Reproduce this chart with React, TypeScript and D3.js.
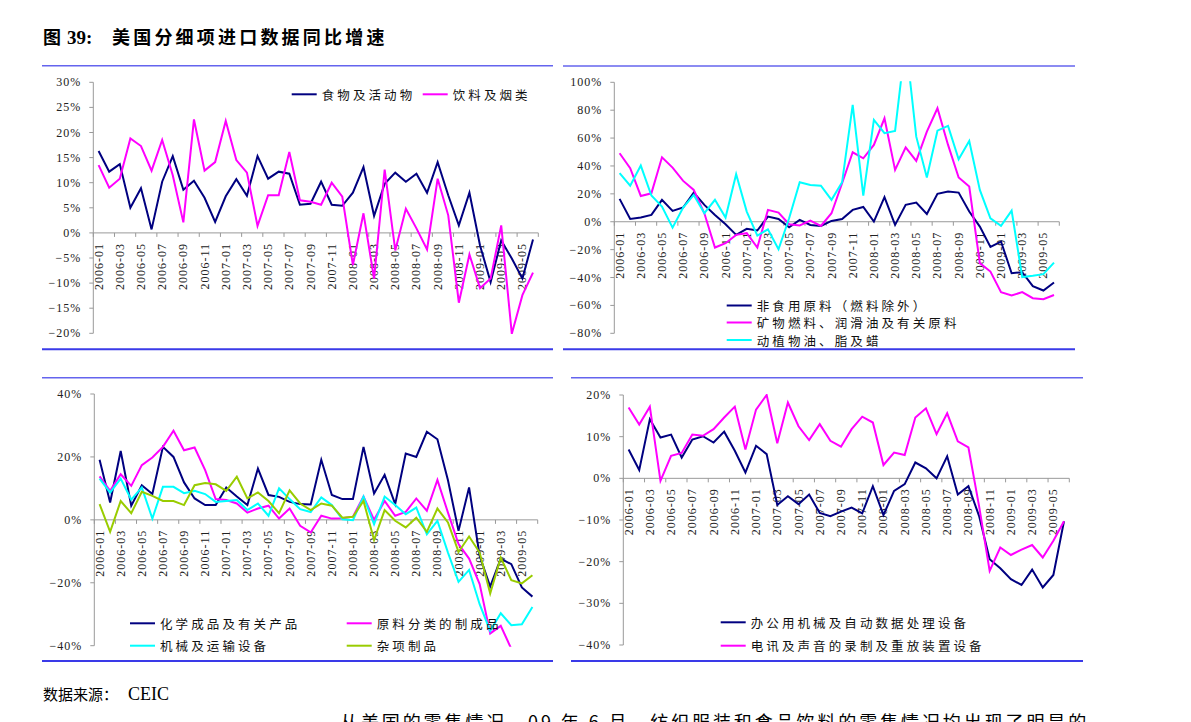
import React from 'react';
import * as d3 from 'd3';

// monthly categories, 2006-01 .. 2009-06
const months = [
  '2006-01', '2006-02', '2006-03', '2006-04', '2006-05', '2006-06', '2006-07', '2006-08', '2006-09', '2006-10', '2006-11', '2006-12',
  '2007-01', '2007-02', '2007-03', '2007-04', '2007-05', '2007-06', '2007-07', '2007-08', '2007-09', '2007-10', '2007-11', '2007-12',
  '2008-01', '2008-02', '2008-03', '2008-04', '2008-05', '2008-06', '2008-07', '2008-08', '2008-09', '2008-10', '2008-11', '2008-12',
  '2009-01', '2009-02', '2009-03', '2009-04', '2009-05', '2009-06',
];

// panel 1
const food = [16.3, 12.2, 13.7, 5.0, 8.9, 0.7, 10.2, 15.3, 8.6, 10.4, 7.0, 2.2, 7.3, 10.7, 7.4, 15.3, 10.8, 12.2, 11.8, 5.6,
  5.8, 10.2, 5.6, 5.4, 8.0, 13.1, 3.4, 9.8, 12.0, 10.2, 11.8, 8.0, 14.1, 7.5, 1.5, 8.0, -2.5, -9.8, -1.5, -5.1, -9.1, -1.3];
const beverage = [13.5, 9.0, 10.8, 18.8, 17.3, 12.4, 18.5, 11.5, 2.1, 22.6, 12.4, 14.1, 22.3, 14.5, 12.0, 1.4, 7.5, 7.5, 16.1, 6.5,
  6.2, 5.6, 10.0, 7.2, -6.4, 3.9, -9.1, 12.6, -3.5, 4.8, 0.9, -3.3, 10.8, 3.5, -13.9, -4.3, -11.0, -9.1, 1.5, -20.1, -12.4, -7.9];

// panel 2
const crudeMaterials = [16.4, 2.0, 3.0, 4.9, 15.7, 7.8, 10.2, 20.9, 12.1, 4.9, -1.8, -9.4, -5.1, -6.3, 3.7, 2.0, -4.0, 1.3, -2.3, -3.0,
  0.6, 2.0, 8.5, 10.6, 0.1, 17.6, -2.3, 12.1, 13.7, 5.6, 20.0, 21.6, 20.9, 7.3, -3.5, -18.0, -14.2, -36.9, -36.2, -46.2, -49.3, -43.6];
const mineralFuels = [49.1, 38.4, 18.5, 20.4, 46.2, 38.8, 29.3, 22.8, 6.1, -18.5, -15.4, -9.4, -8.2, -18.5, 8.5, 6.6, -1.8, -2.7, 0.8, -3.0,
  6.1, 27.6, 49.8, 45.5, 55.1, 74.2, 37.2, 53.4, 43.6, 64.6, 81.4, 55.1, 31.7, 25.2, -29.7, -35.7, -50.5, -52.9, -50.5, -54.8, -55.5, -52.5];
const animalVegOils = [34.8, 25.9, 40.3, 18.8, 10.9, -4.2, 10.2, 19.2, 6.1, 15.7, 3.0, 34.1, 7.3, -9.9, -5.4, -19.7, 2.5, 28.3, 26.4, 25.9,
  15.7, 28.3, 83.8, 18.8, 73.0, 63.5, 65.1, 130, 61.0, 31.7, 65.3, 68.7, 44.8, 57.9, 22.8, 2.5, -3.0, 8.0, -39.7, -38.8, -37.6, -29.3];

// panel 3
const chemicals = [19.1, 5.5, 21.9, 4.5, 11.0, 8.2, 23.2, 20.0, 11.9, 6.8, 4.7, 4.7, 10.3, 7.4, 4.7, 16.3, 7.9, 7.3, 5.7, 5.0,
  4.9, 19.1, 7.9, 6.6, 6.6, 23.2, 8.4, 14.3, 5.0, 21.1, 20.0, 28.0, 25.6, 12.6, -3.5, 10.3, -11.4, -21.2, -12.3, -14.1, -21.5, -24.4];
const manufactured = [13.8, 9.2, 14.5, 10.8, 17.4, 19.8, 23.2, 28.3, 22.1, 23.0, 15.8, 6.6, 6.3, 5.2, 2.3, 3.6, 4.5, 0.4, 3.6, -1.9,
  -4.0, 1.3, 0.4, 0.5, 1.0, 7.4, 0.0, 6.0, 1.3, 2.5, 6.8, 2.9, 12.7, 2.3, -7.7, -12.3, -20.4, -36.1, -33.7, -41.0, -45.0, -43.0];
const machinery = [13.1, 8.7, 13.1, 6.4, 10.3, 0.4, 10.5, 10.5, 8.5, 9.2, 8.2, 5.7, 6.0, 6.3, 3.1, 5.2, 1.3, 10.0, 6.6, 3.4,
  2.5, 7.1, 4.7, 0.2, -0.1, 7.4, -1.4, 7.4, 4.7, 1.8, 3.9, -4.6, -0.3, -10.4, -19.7, -15.9, -26.8, -35.3, -29.7, -33.5, -33.2, -27.7];
const miscellaneous = [5.0, -3.8, 6.0, 2.1, 8.9, 7.6, 6.0, 6.0, 4.7, 11.0, 11.7, 11.3, 9.2, 13.7, 6.8, 8.7, 6.0, 2.1, 9.4, 5.2,
  3.1, 5.2, 4.5, 0.7, 1.0, 6.0, -6.4, 3.1, -0.3, -2.4, 0.7, -3.8, 3.6, -0.8, -10.2, -5.3, -10.4, -23.4, -12.0, -19.2, -20.2, -17.6];

// panel 4
const officeMachines = [6.9, 2.0, 14.2, 9.8, 10.5, 5.0, 9.3, 10.1, 8.6, 11.2, 6.6, 1.4, 7.8, 5.8, -6.4, -4.3, -6.2, -3.9, -8.3, -9.1,
  -8.0, -7.0, -8.4, -1.9, -8.8, -3.0, -1.4, 3.8, 2.4, 0.0, 5.3, -3.9, -1.9, -9.0, -19.4, -21.6, -24.2, -25.6, -21.9, -26.2, -23.2, -10.3];
const telecom = [17.0, 12.9, 17.2, -0.6, 5.4, 6.1, 10.5, 10.2, 11.8, 14.6, 17.2, 6.9, 16.5, 20.0, 8.4, 18.2, 12.5, 9.2, 13.0, 9.0,
  7.6, 11.8, 14.8, 13.4, 3.2, 6.2, 5.6, 14.6, 16.8, 10.6, 15.6, 8.9, 7.4, -6.6, -22.2, -16.6, -18.4, -17.1, -16.0, -19.0, -15.0, -10.3];

const NAVY = '#000080';
const PINK = '#FF00FF';
const CYAN = '#00FFFF';
const GREEN = '#99CC00';

const CJK = '"Noto Sans CJK SC", sans-serif';
const NUM = '"Liberation Serif", "DejaVu Serif", serif';

const panels = [
  {
    id: 'p1', frame: [42, 553, 65.7, 349.3],
    plot: { left: 93.3, right: 538.3, top: 82.3, bottom: 333.3 },
    yMin: -20, yMax: 30, yStep: 5,
    series: [{ values: food, color: NAVY }, { values: beverage, color: PINK }],
    legend: [
      { label: '食物及活动物', color: NAVY, x: 291.7, y: 94.3 },
      { label: '饮料及烟类', color: PINK, x: 422.7, y: 94.3 },
    ],
  },
  {
    id: 'p2', frame: [563, 1075, 66, 349.3],
    plot: { left: 614.3, right: 1059.3, top: 82.3, bottom: 333.3 },
    yMin: -80, yMax: 100, yStep: 20,
    series: [
      { values: crudeMaterials, color: NAVY },
      { values: mineralFuels, color: PINK },
      { values: animalVegOils, color: CYAN },
    ],
    legend: [
      { label: '非食用原料（燃料除外）', color: NAVY, x: 726.7, y: 305.5 },
      { label: '矿物燃料、润滑油及有关原料', color: PINK, x: 726.7, y: 322.5 },
      { label: '动植物油、脂及蜡', color: CYAN, x: 726.7, y: 340 },
    ],
  },
  {
    id: 'p3', frame: [42, 553, 377.7, 661],
    plot: { left: 94.3, right: 537.7, top: 394, bottom: 645.7 },
    yMin: -40, yMax: 40, yStep: 20,
    series: [
      { values: chemicals, color: NAVY },
      { values: manufactured, color: PINK },
      { values: machinery, color: CYAN },
      { values: miscellaneous, color: GREEN },
    ],
    legend: [
      { label: '化学成品及有关产品', color: NAVY, x: 130, y: 623.3 },
      { label: '原料分类的制成品', color: PINK, x: 346.7, y: 623.3 },
      { label: '机械及运输设备', color: CYAN, x: 130, y: 645.7 },
      { label: '杂项制品', color: GREEN, x: 346.7, y: 645.7 },
    ],
  },
  {
    id: 'p4', frame: [571, 1083, 377.7, 661],
    plot: { left: 623.3, right: 1069.3, top: 395, bottom: 645 },
    yMin: -40, yMax: 20, yStep: 10,
    series: [{ values: officeMachines, color: NAVY }, { values: telecom, color: PINK }],
    legend: [
      { label: '办公用机械及自动数据处理设备', color: NAVY, x: 720.7, y: 622.3 },
      { label: '电讯及声音的录制及重放装置设备', color: PINK, x: 720.7, y: 645.7 },
    ],
  },
];

const fmtPct = (v: number) => (v < 0 ? '\u2212' + Math.abs(v) : String(v)) + '%';

function Panel({ cfg }: { cfg: any }) {
  const { plot, frame } = cfg;
  const x = d3.scalePoint<string>().domain(months).range([plot.left, plot.right]).padding(0.5);
  const step = x.step();
  const y = d3.scaleLinear().domain([cfg.yMin, cfg.yMax]).range([plot.bottom, plot.top]);
  const y0 = y(0);
  const yTicks = d3.range(cfg.yMin, cfg.yMax + cfg.yStep / 2, cfg.yStep);
  const xTicks = d3.range(0, months.length + 1, 2).map(i => plot.left + i * step);
  const labelMonths = months.filter((_, i) => i % 2 === 0);
  const line = d3.line<number>().x((_, i) => x(months[i]) as number).y(d => y(d));

  return (
    <g>
      <clipPath id={`clip-${cfg.id}`}>
        <rect x={plot.left} y={plot.top - 1} width={plot.right - plot.left + 4} height={plot.bottom - plot.top + 2} />
      </clipPath>
      {/* frame rules */}
      <line x1={frame[0]} x2={frame[1]} y1={frame[2]} y2={frame[2]} stroke="#6464EE" strokeWidth={1.6} />
      <line x1={frame[0]} x2={frame[1]} y1={frame[3]} y2={frame[3]} stroke="#3A3AE8" strokeWidth={2} />

      {/* y axis */}
      <line x1={plot.left} x2={plot.left} y1={plot.top} y2={plot.bottom} stroke="#999" strokeWidth={1} />
      {yTicks.map(t => (
        <g key={t}>
          <line x1={plot.left - 4} x2={plot.left} y1={y(t)} y2={y(t)} stroke="#999" />
          <text x={plot.left - 12} y={y(t)} textAnchor="end" dominantBaseline="central"
            fontFamily={NUM} fontSize={12} letterSpacing={1} fill="#222">{fmtPct(t)}</text>
        </g>
      ))}

      {/* x axis at zero */}
      <line x1={plot.left} x2={plot.right} y1={y0} y2={y0} stroke="#999" strokeWidth={1} />
      {xTicks.map((tx, i) => (
        <line key={i} x1={tx} x2={tx} y1={y0} y2={y0 + 4} stroke="#999" />
      ))}
      {labelMonths.map(m => (
        <text key={m} transform={`translate(${x(m)},${y0 + 10}) rotate(-90)`} textAnchor="end"
          dominantBaseline="central" fontFamily={NUM} fontSize={12} letterSpacing={1} fill="#222">{m}</text>
      ))}

      {/* series */}
      <g clipPath={`url(#clip-${cfg.id})`}>
        {cfg.series.map((s: any, i: number) => (
          <path key={i} d={line(s.values) as string} fill="none" stroke={s.color} strokeWidth={2} strokeLinejoin="miter" />
        ))}
      </g>

      {/* legend */}
      {cfg.legend.map((l: any) => (
        <g key={l.label}>
          <line x1={l.x} x2={l.x + 25} y1={l.y} y2={l.y} stroke={l.color} strokeWidth={2} />
          <text x={l.x + 30} y={l.y} dominantBaseline="central" fontFamily={CJK} fontSize={12.5}
            letterSpacing={3.1} fill="#111">{l.label}</text>
        </g>
      ))}
    </g>
  );
}

export default function App() {
  return (
    <svg width={1191} height={722} style={{ position: 'absolute', left: 0, top: 0, background: '#fff' }}>
      <rect width={1191} height={722} fill="#fff" />
      {/* figure title */}
      <text x={43} y={44} fontFamily={CJK} fontWeight="bold" fontSize={18} fill="#000">图</text>
      <text x={67} y={44} fontFamily={NUM} fontWeight="bold" fontSize={19} fill="#000">39:</text>
      <text x={112} y={44} fontFamily={CJK} fontWeight="bold" fontSize={18} letterSpacing={3.2} fill="#000">
        美国分细项进口数据同比增速
      </text>
      {panels.map(p => <Panel key={p.id} cfg={p} />)}
      <text x={43} y={700} fontFamily={CJK} fontSize={15} fill="#000">数据来源：</text>
      <text x={128} y={700} fontFamily={NUM} fontSize={18} fill="#000">CEIC</text>
      <text x={340} y={729} fontFamily={CJK} fontSize={18} letterSpacing={2.9} fill="#000">
        从美国的零售情况，09 年 6 月，纺织服装和食品饮料的零售情况均出现了明显的
      </text>
    </svg>
  );
}
